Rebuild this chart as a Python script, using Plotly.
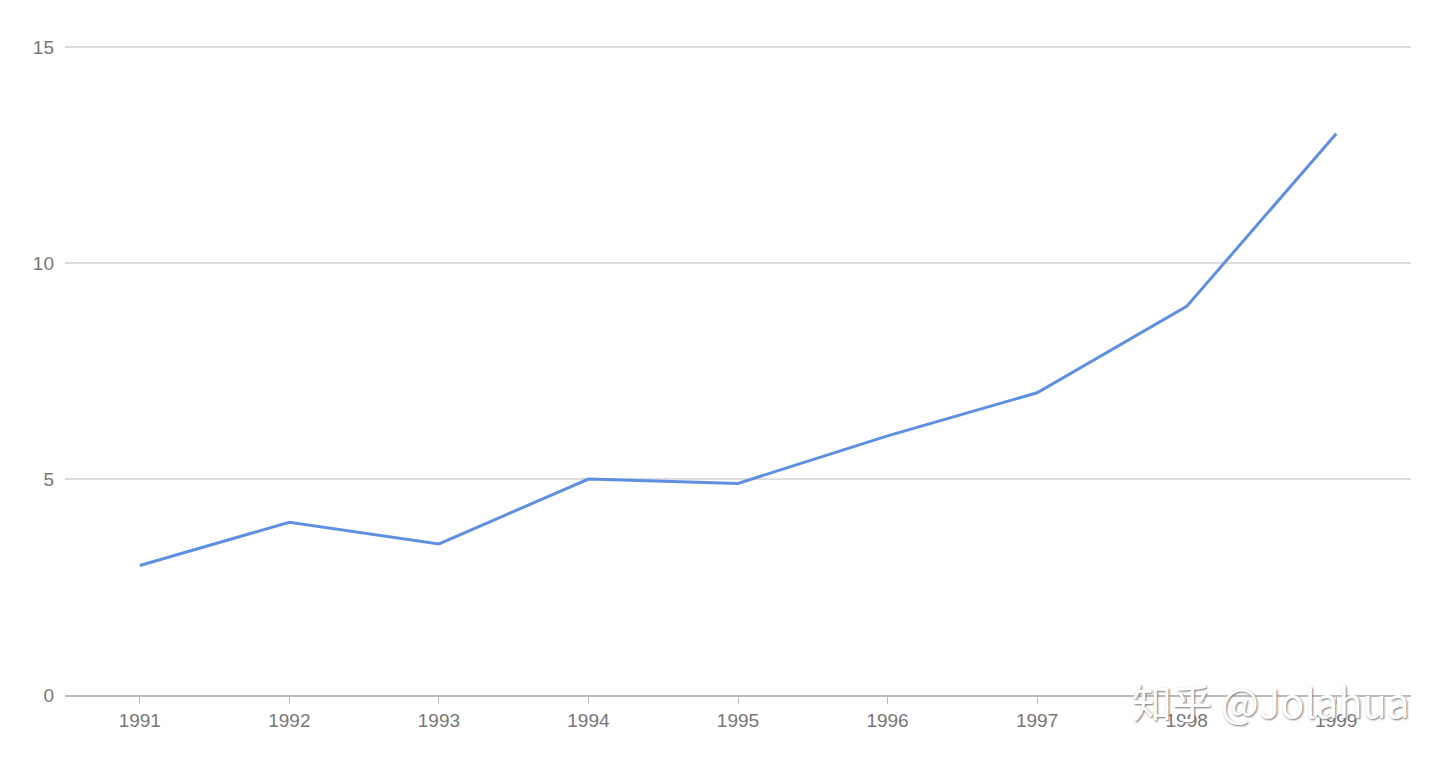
import plotly.graph_objects as go

years = ["1991","1992","1993","1994","1995","1996","1997","1998","1999"]
values = [3, 4, 3.5, 5, 4.9, 6, 7, 9, 13]

fig = go.Figure(go.Scatter(x=years, y=values, mode="lines",
                           line=dict(color="#5f8fe0", width=3)))
fig.update_layout(
    width=1440, height=759, plot_bgcolor="white", paper_bgcolor="white",
    margin=dict(l=57, r=37, t=38, b=72), showlegend=False,
    font=dict(family="Liberation Sans, Arial", size=19, color="#777"),
)
fig.update_xaxes(type="category", range=[-0.5, 8.5], showgrid=False,
                 showline=True, linecolor="#bbb", linewidth=1.5,
                 ticks="outside", ticklen=7, tickcolor="#bbb", zeroline=False)
fig.update_yaxes(range=[0, 15.03], tickvals=[0, 5, 10, 15], gridcolor="#ddd",
                 gridwidth=1.5, zeroline=False, ticks="", ticklabelstandoff=10)
fig.add_annotation(text="知乎 @Jolahua", xref="paper", yref="paper",
                   x=1.0, y=-0.01, xanchor="right", yanchor="middle",
                   showarrow=False,
                   font=dict(size=40, color="white", family="Noto Sans CJK SC",
                             shadow="1px 1px 2px #777"))
fig.write_html("out.html")
